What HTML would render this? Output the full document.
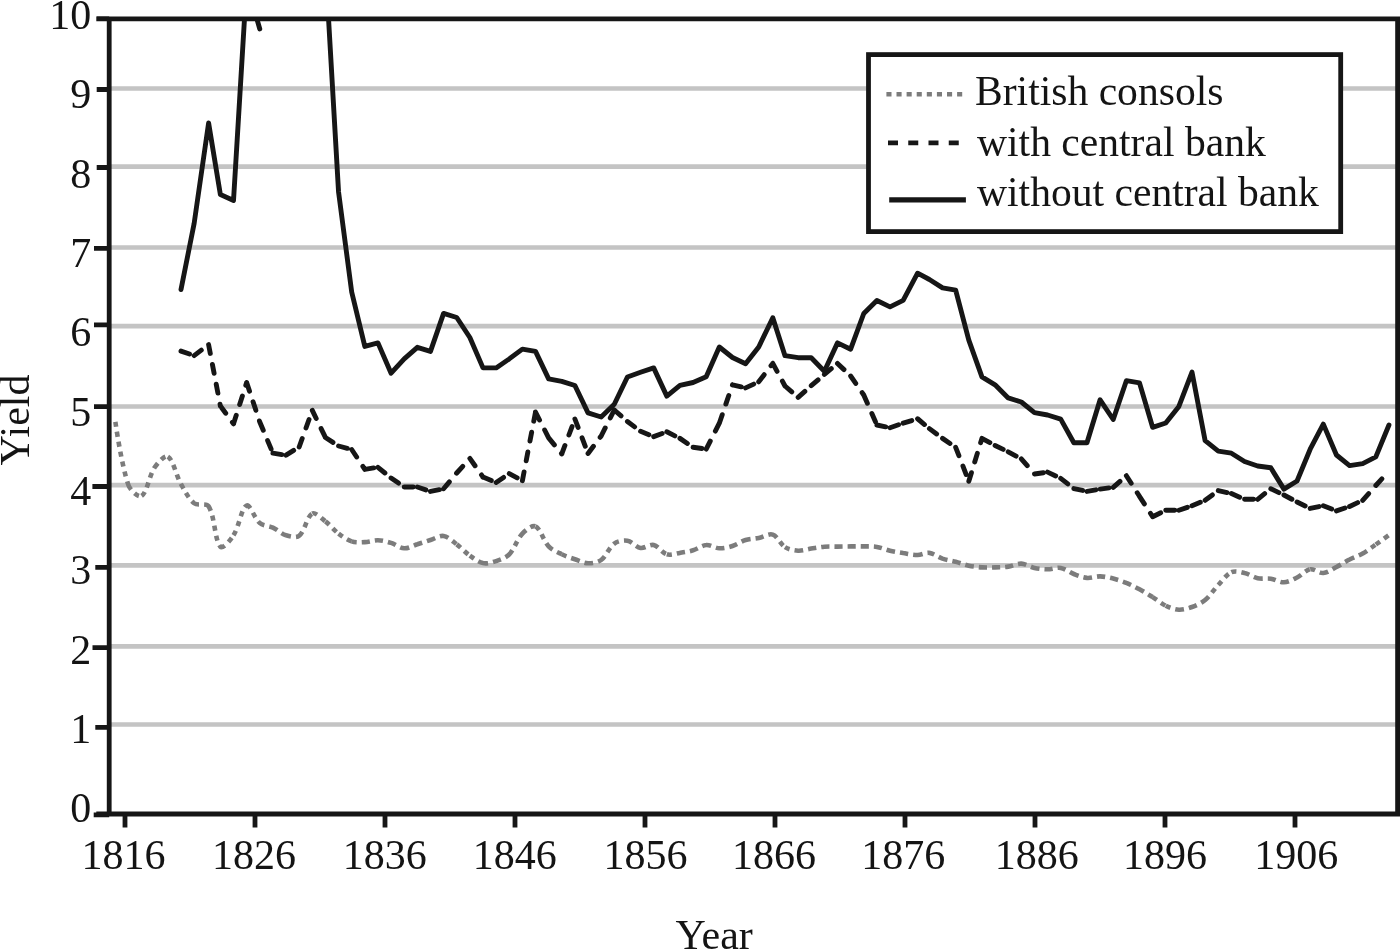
<!DOCTYPE html>
<html><head><meta charset="utf-8"><title>Yield chart</title>
<style>html,body{margin:0;padding:0;background:#fff;}svg{display:block;}text{font-family:"Liberation Serif","Times New Roman",serif;fill:#141414;}</style></head><body>
<svg width="1400" height="949" viewBox="0 0 1400 949">
<rect width="1400" height="949" fill="#fff"/>
<defs><clipPath id="pc"><rect x="109.2" y="18.8" width="1288.4" height="795.2"/></clipPath></defs>
<path d="M109.2 724.5H1397.6M109.2 646.4H1397.6M109.2 565.4H1397.6M109.2 485.2H1397.6M109.2 406.5H1397.6M109.2 326.1H1397.6M109.2 247.5H1397.6M109.2 166.7H1397.6M109.2 88.5H1397.6" stroke="#c4c4c4" stroke-width="4.7" fill="none"/>
<g clip-path="url(#pc)">
<path fill="none" stroke="#7c7c7c" stroke-width="4.6" stroke-dasharray="5.1 5.0" d="M115.35 421.8C115.35 421.8 121.53 465.7 128.48 485.3M128.48 485.3C130.29 490.4 138.55 497.99 141.61 495.9M141.61 495.9C147.31 491.99 149.05 475.82 154.74 467.3M154.74 467.3C157.8 462.72 164.74 454.6 167.87 456.6M167.87 456.6C173.5 460.2 176.03 475.28 181 484.1M181 484.1C184.78 490.81 188.52 498.68 194.13 503.2M194.13 503.2C197.72 506.08 206.32 502.53 208.6 506.3M208.6 506.3C215.08 517.03 214.51 539.86 220.39 546.7M220.39 546.7C222.82 549.53 230.47 540.08 233.52 535.3M233.52 535.3C239.23 526.35 241.42 507.93 246.65 505.5M246.65 505.5C250.18 503.86 254.42 518.59 259.78 523.1M259.78 523.1C263.17 525.95 268.74 525.66 272.91 527.6M272.91 527.6C277.49 529.73 281.34 533.85 286.04 535.3M286.04 535.3C290.09 536.55 296.21 538.15 299.17 535.7M299.17 535.7C304.96 530.91 306.81 516.59 312.3 513.6M312.3 513.6C315.56 511.82 321.4 518.33 325.43 521.4M325.43 521.4C330.16 525 333.83 530 338.56 533.6M338.56 533.6C342.59 536.67 346.99 539.88 351.69 541.4M351.69 541.4C355.74 542.71 360.46 542.28 364.82 542.1M364.82 542.1C369.21 541.92 373.6 540.17 377.95 540.3M377.95 540.3C382.35 540.43 386.83 541.61 391.08 542.9M391.08 542.9C395.59 544.27 399.76 548.06 404.21 548.3M404.21 548.3C408.51 548.53 412.98 545.68 417.34 544.3M417.34 544.3C421.73 542.91 426.08 541.39 430.47 540M430.47 540C434.83 538.62 439.49 535.33 443.6 536M443.6 536C448.25 536.76 452.6 541.2 456.73 544.3M456.73 544.3C461.35 547.77 465.17 552.34 469.86 555.7M469.86 555.7C473.92 558.61 478.34 562.14 482.99 563.1M482.99 563.1C487.09 563.94 491.98 562.49 496.12 561.1M496.12 561.1C500.73 559.55 505.96 557.75 509.25 554.3M509.25 554.3C514.71 548.58 516.95 539.37 522.38 533.6M522.38 533.6C525.7 530.07 532.14 524.76 535.51 526.4M535.51 526.4C540.89 529.02 543.3 540.73 548.64 546.4M548.64 546.4C552.06 550.03 557.2 552.06 561.77 554.3M561.77 554.3C565.96 556.36 570.47 557.78 574.9 559.3M574.9 559.3C579.23 560.78 583.62 563.18 588.03 563.3M588.03 563.3C592.38 563.42 597.73 562.57 601.16 560M601.16 560C606.48 556.01 608.95 547.52 614.29 543.6M614.29 543.6C617.71 541.09 623.28 540.02 627.42 540.7M627.42 540.7C632.03 541.46 635.94 547.14 640.55 547.9M640.55 547.9C644.69 548.58 649.7 544.03 653.68 545M653.68 545C658.45 546.16 662 552.85 666.81 554.3M666.81 554.3C670.76 555.49 675.59 553.56 679.94 552.9M679.94 552.9C684.35 552.23 688.82 551.58 693.07 550.3M693.07 550.3C697.57 548.95 701.73 545.34 706.2 545M706.2 545C710.48 544.67 714.92 548.13 719.33 548.3M719.33 548.3C723.67 548.47 728.26 547.33 732.46 546M732.46 546C737.01 544.56 741.03 541.41 745.59 540M745.59 540C749.79 538.71 754.38 538.76 758.72 537.9M758.72 537.9C763.45 536.96 768.83 533.21 772.8 534.6M772.8 534.6C777.59 536.28 780.24 544.09 784.98 547.1M784.98 547.1C788.68 549.45 793.68 550.45 798.11 550.7M798.11 550.7C802.43 550.95 806.86 549.27 811.24 548.6M811.24 548.6C815.61 547.93 819.97 547.04 824.37 546.7M824.37 546.7C828.72 546.37 833.12 546.65 837.5 546.6M837.5 546.6C841.88 546.55 846.25 546.43 850.63 546.4M850.63 546.4C855.01 546.37 859.38 546.32 863.76 546.4M863.76 546.4C868.14 546.48 872.6 546.2 876.89 546.9M876.89 546.9C881.35 547.63 885.59 549.65 890.02 550.7M890.02 550.7C894.34 551.72 898.76 552.41 903.15 553.1M903.15 553.1C907.95 553.85 912.8 555.04 917.6 555M917.6 555C921.55 554.97 925.62 552.35 929.41 552.9M929.41 552.9C933.93 553.55 938.03 557.09 942.54 558.6M942.54 558.6C946.79 560.02 951.33 560.53 955.67 561.7M955.67 561.7C960.08 562.89 964.34 564.73 968.8 565.7M968.8 565.7C973.1 566.63 977.54 567.12 981.93 567.4M981.93 567.4C986.29 567.68 990.69 567.53 995.06 567.4M995.06 567.4C999.44 567.27 1003.86 567.23 1008.19 566.6M1008.19 566.6C1012.62 565.96 1017 563.39 1021.32 563.6M1021.32 563.6C1025.75 563.82 1029.97 566.93 1034.45 567.9M1034.45 567.9C1038.73 568.83 1043.2 569.3 1047.58 569.3M1047.58 569.3C1051.96 569.3 1056.53 567.15 1060.71 567.9M1060.71 567.9C1065.29 568.72 1069.34 572.29 1073.84 574M1073.84 574C1078.1 575.62 1082.52 577.49 1086.97 577.9M1086.97 577.9C1091.27 578.29 1095.74 576.28 1100.1 576.4M1100.1 576.4C1104.49 576.52 1108.93 577.54 1113.23 578.6M1113.23 578.6C1117.69 579.7 1122.11 581.17 1126.36 582.9M1126.36 582.9C1130.86 584.73 1135.21 586.99 1139.49 589.3M1139.49 589.3C1143.96 591.72 1148.3 594.4 1152.62 597.1M1152.62 597.1C1157.06 599.87 1161.08 603.46 1165.75 605.7M1165.75 605.7C1169.83 607.66 1174.45 609.48 1178.88 609.7M1178.88 609.7C1183.2 609.91 1187.86 608.53 1192.01 607M1192.01 607C1196.61 605.3 1201.4 603.13 1205.14 600M1205.14 600C1210.15 595.8 1213.71 589.83 1218.27 585M1218.27 585C1222.46 580.56 1226.3 574.53 1231.4 572.2M1231.4 572.2C1235.06 570.53 1240.31 572.04 1244.53 573M1244.53 573C1249.06 574.04 1253.13 577.22 1257.66 578.2M1257.66 578.2C1261.88 579.12 1266.49 578.03 1270.79 578.7M1270.79 578.7C1275.24 579.4 1279.6 582.5 1283.92 582.3M1283.92 582.3C1288.35 582.1 1292.9 579.56 1297.05 577.5M1297.05 577.5C1301.65 575.21 1305.53 570.05 1310.18 569.25M1310.18 569.25C1314.28 568.55 1319.06 573.36 1323.31 573M1323.31 573C1327.81 572.61 1332.16 569.2 1336.44 567M1336.44 567C1340.92 564.7 1345.09 561.8 1349.57 559.5M1349.57 559.5C1353.85 557.3 1358.54 555.88 1362.7 553.5M1362.7 553.5C1367.29 550.88 1371.49 547.56 1375.83 544.5M1375.83 544.5C1380.25 541.39 1388.96 535 1388.96 535"/>
<path fill="none" stroke="#161616" stroke-width="4.9" stroke-dasharray="9 11.2" stroke-linecap="round" d="M181 351.1L194.13 355.6M194.13 355.6L208.6 344.6M208.6 344.6L220.39 406M220.39 406L233.52 423.8M233.52 423.8L246.65 382.6M246.65 382.6L259.78 422M259.78 422L272.91 453.2M272.91 453.2L286.04 455.2M286.04 455.2L299.17 447M299.17 447L312.3 410.4M312.3 410.4L325.43 437.5M325.43 437.5L338.56 446M338.56 446L351.69 449.5M351.69 449.5L364.82 469.3M364.82 469.3L377.95 467.3M377.95 467.3L391.08 478M391.08 478L404.21 487M404.21 487L417.34 487M417.34 487L430.47 491.4M430.47 491.4L443.6 488.75M443.6 488.75L456.73 473M456.73 473L469.86 458.4M469.86 458.4L482.99 477.1M482.99 477.1L496.12 482.5M496.12 482.5L509.25 473.6M509.25 473.6L522.38 480.7M522.38 480.7L535.51 412M535.51 412L548.64 437.9M548.64 437.9L561.77 453.9M561.77 453.9L574.9 419M574.9 419L588.03 453.5M588.03 453.5L601.16 436M601.16 436L614.29 410M614.29 410L627.42 421.5M627.42 421.5L640.55 431.3M640.55 431.3L653.68 436.6M653.68 436.6L666.81 431.8M666.81 431.8L679.94 438.4M679.94 438.4L693.07 447.3M693.07 447.3L706.2 449.1M706.2 449.1L719.33 423.2M719.33 423.2L732.46 384.8M732.46 384.8L745.59 387.9M745.59 387.9L758.72 381.8M758.72 381.8L772.8 363.4M772.8 363.4L784.98 386M784.98 386L798.11 397.3M798.11 397.3L811.24 385.7M811.24 385.7L824.37 374.4M824.37 374.4L837.5 363.4M837.5 363.4L850.63 376M850.63 376L863.76 395M863.76 395L876.89 425M876.89 425L890.02 427.7M890.02 427.7L903.15 423.2M903.15 423.2L917.6 418.75M917.6 418.75L929.41 428.6M929.41 428.6L942.54 438.4M942.54 438.4L955.67 447.3M955.67 447.3L968.8 481.3M968.8 481.3L981.93 438.4M981.93 438.4L995.06 445.5M995.06 445.5L1008.19 451.8M1008.19 451.8L1021.32 458.9M1021.32 458.9L1034.45 474M1034.45 474L1047.58 472.1M1047.58 472.1L1060.71 478.4M1060.71 478.4L1073.84 488.6M1073.84 488.6L1086.97 491.4M1086.97 491.4L1100.1 489.1M1100.1 489.1L1113.23 487.3M1113.23 487.3L1126.36 475.7M1126.36 475.7L1139.49 496.3M1139.49 496.3L1152.62 516.7M1152.62 516.7L1165.75 510.3M1165.75 510.3L1178.88 510.3M1178.88 510.3L1192.01 505.7M1192.01 505.7L1205.14 500.3M1205.14 500.3L1218.27 490.6M1218.27 490.6L1231.4 493.5M1231.4 493.5L1244.53 499.3M1244.53 499.3L1257.66 499.3M1257.66 499.3L1270.79 488.7M1270.79 488.7L1283.92 495M1283.92 495L1297.05 502M1297.05 502L1310.18 508.4M1310.18 508.4L1323.31 505.7M1323.31 505.7L1336.44 510.9M1336.44 510.9L1349.57 506.5M1349.57 506.5L1362.7 500.3M1362.7 500.3L1375.83 485.5M1375.83 485.5L1388.96 471"/>
<path d="M181 289.5L194.13 223.5L208.6 123L220.39 194.6L233.52 200.4L246.65 -17L259.78 29M325.43 -35L338.56 192L351.69 292L364.82 346.4L377.95 342.9L391.08 373.2L404.21 358.9L417.34 347.3L430.47 351.4L443.6 313.4L456.73 317.5L469.86 337.5L482.99 367.9L496.12 367.9L509.25 358.9L522.38 349.1L535.51 351.4L548.64 378.9L561.77 381.3L574.9 385.5L588.03 412.9L601.16 417L614.29 404.3L627.42 377L640.55 372.3L653.68 367.9L666.81 396.1L679.94 385.4L693.07 382.5L706.2 376.8L719.33 347L732.46 357.5L745.59 363.8L758.72 347L772.8 317.7L784.98 355.7L798.11 357.7L811.24 357.7L824.37 371.2L837.5 342.9L850.63 349.2L863.76 313.5L876.89 300.5L890.02 306.9L903.15 300.4L917.6 273.2L929.41 279.5L942.54 287.9L955.67 290.2L968.8 340.2L981.93 376.8L995.06 384.8L1008.19 397.9L1021.32 402L1034.45 412.7L1047.58 415L1060.71 419.1L1073.84 442.7L1086.97 442.7L1100.1 399.8L1113.23 419.5L1126.36 380.7L1139.49 382.9L1152.62 427.3L1165.75 423L1178.88 406.4L1192.01 372.1L1205.14 440.7L1218.27 451.1L1231.4 453.2L1244.53 461.5L1257.66 466L1270.79 467.8L1283.92 489.1L1297.05 481L1310.18 449.2L1323.31 424.1L1336.44 455L1349.57 465.6L1362.7 463.6L1375.83 456.9L1388.96 425" fill="none" stroke="#161616" stroke-width="4.9" stroke-linejoin="round" stroke-linecap="round"/>
</g>
<path d="M96.3 18.8H1400M109.2 16.4V816.4M96.3 814H1400M1397.6 16.4V816.4M96.7 18.6H109.2M96.7 89.5H109.2M96.7 167.5H109.2M94 248.3H109.2M94 324.8H109.2M94 406.7H109.2M92.4 486.5H109.2M95.3 567.3H109.2M92.5 647.7H109.2M95.3 727.3H109.2M93.7 814.8H109.2M125 814V827.6M255 814V827.6M385 814V827.6M515 814V827.6M645 814V827.6M775 814V827.6M905 814V827.6M1035 814V827.6M1165 814V827.6M1295 814V827.6" stroke="#161616" stroke-width="4.8" fill="none"/>
<g font-size="42"><text x="91.3" y="822.3" text-anchor="end">0</text><text x="91.3" y="742.97" text-anchor="end">1</text><text x="91.3" y="663.64" text-anchor="end">2</text><text x="91.3" y="584.31" text-anchor="end">3</text><text x="91.3" y="504.98" text-anchor="end">4</text><text x="91.3" y="425.65" text-anchor="end">5</text><text x="91.3" y="346.32" text-anchor="end">6</text><text x="91.3" y="266.99" text-anchor="end">7</text><text x="91.3" y="187.66" text-anchor="end">8</text><text x="91.3" y="108.33" text-anchor="end">9</text><text x="91.3" y="29" text-anchor="end">10</text><text x="123.6" y="868.8" text-anchor="middle">1816</text><text x="254" y="868.8" text-anchor="middle">1826</text><text x="384.7" y="868.8" text-anchor="middle">1836</text><text x="514.8" y="868.8" text-anchor="middle">1846</text><text x="645.5" y="868.8" text-anchor="middle">1856</text><text x="774" y="868.8" text-anchor="middle">1866</text><text x="903.3" y="868.8" text-anchor="middle">1876</text><text x="1036.8" y="868.8" text-anchor="middle">1886</text><text x="1165" y="868.8" text-anchor="middle">1896</text><text x="1296.3" y="868.8" text-anchor="middle">1906</text><text x="675.4" y="949">Year</text><text transform="translate(29.3 465.5) rotate(-90)">Yield</text></g>
<rect x="868.5" y="54.6" width="472.2" height="177" fill="#fff" stroke="#161616" stroke-width="4.8"/>
<path d="M886.4 94.2H964" stroke="#7c7c7c" stroke-width="4.6" stroke-dasharray="5.1 5.0" fill="none"/>
<path d="M888 142.8H964" stroke="#161616" stroke-width="4.8" stroke-dasharray="10 10.25" fill="none"/>
<path d="M889.2 199.8H965.9" stroke="#161616" stroke-width="5.2" fill="none"/>
<g font-size="41.6"><text x="975" y="105.2">British consols</text><text x="977" y="155.7">with central bank</text><text x="977" y="205.7">without central bank</text></g>
</svg>
</body></html>
